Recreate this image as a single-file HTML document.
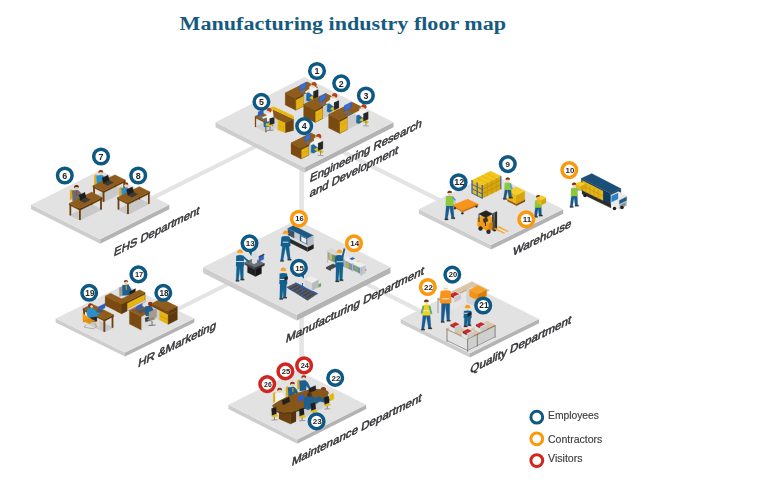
<!DOCTYPE html>
<html><head><meta charset="utf-8"><title>Manufacturing industry floor map</title>
<style>html,body{margin:0;padding:0;background:#fff;}svg{display:block;}</style>
</head><body>
<svg width="768" height="493" viewBox="0 0 768 493">
<rect width="768" height="493" fill="#fff"/>
<style>polygon{stroke-width:0.25;stroke-linejoin:round}</style>
<text x="179.6" y="30.0" font-family="Liberation Serif, serif" font-weight="bold" font-size="19.6" fill="#165b7f" textLength="326.5" lengthAdjust="spacingAndGlyphs">Manufacturing industry floor map</text>
<line x1="150.0" y1="199.2" x2="304.0" y2="122.2" stroke="#e4e4e4" stroke-width="4.1"/>
<line x1="304.0" y1="132.3" x2="450.0" y2="205.3" stroke="#e4e4e4" stroke-width="4.1"/>
<line x1="301.6" y1="125.0" x2="301.6" y2="406.0" stroke="#e4e4e4" stroke-width="4.6"/>
<line x1="150.0" y1="323.0" x2="297.0" y2="249.5" stroke="#e4e4e4" stroke-width="4.1"/>
<line x1="297.0" y1="249.3" x2="440.0" y2="320.8" stroke="#e4e4e4" stroke-width="4.1"/>
<polygon points="215.5,122.3 304.5,167.6 304.5,172.5 215.5,127.2" fill="#cdcdcd"/>
<polygon points="304.5,167.6 393.5,122.3 393.5,127.2 304.5,172.5" fill="#b3b3b3"/>
<polygon points="215.5,122.3 304.5,77.0 393.5,122.3 304.5,167.6" fill="#e2e2e2"/>
<polygon points="273.6,116.6 277.8,119.7 277.8,130.1 273.6,127.5" fill="#d3d3d3" stroke="#d3d3d3"/>
<polygon points="272.8,109.6 292.1,118.5 293.6,118.9 285.1,123.1 277.8,119.7 273.6,116.6" fill="#8a5818" stroke="#8a5818"/>
<polygon points="285.1,123.1 293.6,118.9 293.6,130.5 285.1,132.8" fill="#6e420d" stroke="#6e420d"/>
<polygon points="277.8,119.7 285.1,123.1 285.1,132.8 277.8,130.1" fill="#e5b412" stroke="#e5b412"/>
<line x1="278.0" y1="125.2" x2="285.0" y2="128.4" stroke="#c99a08" stroke-width="0.5"/>
<path d="M268.6,112.3 Q268.5,107.5 273.6,106.6 L293.0,115.6 Q294.6,116.6 294.0,118.1 L292.1,118.5 L272.8,109.6 Q271.0,110.2 270.5,111.6 Z" fill="#e8b80f"/>
<polygon points="266.0,132.3 273.0,128.8 262.0,123.3 255.0,126.8" fill="#cfcfcf" stroke="#cfcfcf"/>
<line x1="266.0" y1="132.3" x2="266.0" y2="122.3" stroke="#7a4a10" stroke-width="1.3"/>
<line x1="272.5" y1="129.1" x2="272.5" y2="119.1" stroke="#7a4a10" stroke-width="1.3"/>
<line x1="255.5" y1="127.1" x2="255.5" y2="117.1" stroke="#7a4a10" stroke-width="1.3"/>
<polygon points="255.0,117.8 266.0,123.3 266.0,121.7 255.0,116.2" fill="#7a4a10" stroke="#7a4a10"/>
<polygon points="266.0,123.3 273.0,119.8 273.0,118.2 266.0,121.7" fill="#5f390b" stroke="#5f390b"/>
<polygon points="266.0,121.7 273.0,118.2 262.0,112.7 255.0,116.2" fill="#8e5c1c" stroke="#8e5c1c"/>
<polygon points="258.5,117.0 263.5,119.5 266.5,118.0 261.5,115.5" fill="#707070" stroke="#707070"/>
<polygon points="258.1,116.4 263.4,113.8 263.4,109.3 258.1,111.9" fill="#2f5fc0" stroke="#2f5fc0"/>
<polygon points="266.6,126.2 273.6,126.2 273.6,130.8 266.6,130.8" fill="#cfcfcf" stroke="#cfcfcf"/>
<line x1="270.0" y1="126.0" x2="270.0" y2="130.5" stroke="#666" stroke-width="0.8"/>
<line x1="266.8" y1="130.5" x2="273.4" y2="130.2" stroke="#777" stroke-width="0.7"/>
<polygon points="263.5,121.5 268.9,120.8 268.9,126.5 264.0,127.0" fill="#1b69a3" stroke="#1b69a3"/>
<polygon points="265.9,123.6 272.8,123.1 272.8,125.4 265.9,125.9" fill="#e8bd10" stroke="#e8bd10"/>
<polygon points="266.6,112.8 272.5,112.3 273.6,120.8 267.2,121.6" fill="#f2f2f2" stroke="#f2f2f2"/>
<polygon points="266.8,115.5 262.5,117.2 263.0,118.6 267.2,117.3" fill="#f2f2f2" stroke="#f2f2f2"/>
<polygon points="269.7,118.4 274.3,117.3 274.3,123.6 269.7,124.7" fill="#262626" stroke="#262626"/>
<circle cx="268.9" cy="110.8" r="2.4" fill="#f1d2b4"/>
<path d="M266.6,110.6 a2.5,2.5 0 1,1 4.8,0.6 l-1,1.2 l-1.4,-1.5 z" fill="#b5401c"/>
<polygon points="285.2,105.0 295.7,110.3 295.7,98.3 285.2,93.0" fill="#7a4a10" stroke="#7a4a10"/>
<polygon points="295.7,98.3 317.7,87.3 307.2,82.0 285.2,93.0" fill="#8e5c1c" stroke="#8e5c1c"/>
<polygon points="295.7,110.3 303.7,106.3 303.7,94.3 295.7,98.3" fill="#5f390b" stroke="#5f390b"/>
<polygon points="296.1,109.8 303.3,106.2 303.3,96.3 296.1,99.9" fill="#e5b412" stroke="#e5b412"/>
<polygon points="296.1,104.1 303.3,100.5 303.3,100.1 296.1,103.7" fill="#d6a60b" stroke="#d6a60b"/>
<polygon points="303.7,106.3 317.7,99.3 317.7,88.8 303.7,95.8" fill="#cbcbcb" stroke="#cbcbcb"/>
<polygon points="295.7,98.3 317.7,87.3 307.2,82.0 285.2,93.0" fill="#8e5c1c" stroke="#8e5c1c"/>
<polygon points="298.9,91.3 302.2,89.7 307.9,92.5 304.6,94.1" fill="#6b6b6b" stroke="#6b6b6b"/>
<polygon points="299.5,90.7 306.0,87.5 306.5,82.0 300.0,85.2" fill="#2f5fc0" stroke="#2f5fc0"/>
<polygon points="300.3,89.7 305.3,87.2 305.7,83.1 300.7,85.6" fill="#3d6fd1" stroke="#3d6fd1"/>
<polygon points="306.6,93.6 312.9,91.1 314.4,98.1 308.9,101.6 306.3,100.6" fill="#1b69a3" stroke="#1b69a3"/>
<polygon points="309.4,98.1 317.4,101.6 318.9,99.6 311.9,96.1" fill="#e8bd10" stroke="#e8bd10"/>
<polygon points="309.6,86.3 316.1,86.6 316.5,94.6 312.9,95.6 309.1,92.6" fill="#f2f2f2" stroke="#f2f2f2"/>
<polygon points="309.4,89.1 305.4,91.6 305.9,93.1 310.4,91.1" fill="#f2f2f2" stroke="#f2f2f2"/>
<polygon points="313.4,91.6 318.2,89.6 318.2,97.1 313.4,99.1" fill="#262626" stroke="#262626"/>
<line x1="315.9" y1="99.1" x2="315.9" y2="103.6" stroke="#777" stroke-width="0.8"/>
<line x1="312.9" y1="103.6" x2="318.9" y2="104.1" stroke="#888" stroke-width="0.7"/>
<circle cx="313.3" cy="84.9" r="2.6" fill="#f1d2b4"/>
<path d="M311.3,84.9 a2.7,2.7 0 1,1 5.2,0.8 l-1,1.2 l-1.4,-1.5 z" fill="#b5401c"/>
<polygon points="303.6,116.7 315.1,122.4 315.1,110.1 303.6,104.4" fill="#7a4a10" stroke="#7a4a10"/>
<polygon points="315.1,110.1 337.1,99.1 325.6,93.4 303.6,104.4" fill="#8e5c1c" stroke="#8e5c1c"/>
<polygon points="315.1,122.4 323.1,118.4 323.1,106.1 315.1,110.1" fill="#5f390b" stroke="#5f390b"/>
<polygon points="315.5,121.9 322.7,118.3 322.7,108.1 315.5,111.7" fill="#e5b412" stroke="#e5b412"/>
<polygon points="315.5,115.9 322.7,112.3 322.7,111.9 315.5,115.5" fill="#d6a60b" stroke="#d6a60b"/>
<polygon points="323.1,118.4 337.1,111.4 337.1,100.6 323.1,107.6" fill="#cbcbcb" stroke="#cbcbcb"/>
<polygon points="315.1,110.1 337.1,99.1 325.6,93.4 303.6,104.4" fill="#8e5c1c" stroke="#8e5c1c"/>
<polygon points="318.4,102.9 321.8,101.3 327.6,104.2 324.2,105.8" fill="#6b6b6b" stroke="#6b6b6b"/>
<polygon points="319.0,102.3 325.7,99.0 326.2,93.4 319.5,96.7" fill="#2f5fc0" stroke="#2f5fc0"/>
<polygon points="319.8,101.3 324.9,98.7 325.4,94.5 320.2,97.1" fill="#3d6fd1" stroke="#3d6fd1"/>
<polygon points="327.3,104.6 333.6,102.1 335.1,109.1 329.6,112.6 327.0,111.6" fill="#1b69a3" stroke="#1b69a3"/>
<polygon points="330.1,109.1 338.1,112.6 339.6,110.6 332.6,107.1" fill="#e8bd10" stroke="#e8bd10"/>
<polygon points="330.3,97.3 336.8,97.6 337.2,105.6 333.6,106.6 329.8,103.6" fill="#f2f2f2" stroke="#f2f2f2"/>
<polygon points="330.1,100.1 326.1,102.6 326.6,104.1 331.1,102.1" fill="#f2f2f2" stroke="#f2f2f2"/>
<polygon points="334.1,102.6 338.9,100.6 338.9,108.1 334.1,110.1" fill="#262626" stroke="#262626"/>
<line x1="336.6" y1="110.1" x2="336.6" y2="114.6" stroke="#777" stroke-width="0.8"/>
<line x1="333.6" y1="114.6" x2="339.6" y2="115.1" stroke="#888" stroke-width="0.7"/>
<circle cx="334.0" cy="95.9" r="2.6" fill="#f1d2b4"/>
<path d="M332.0,95.9 a2.7,2.7 0 1,1 5.2,0.8 l-1,1.2 l-1.4,-1.5 z" fill="#b5401c"/>
<polygon points="328.6,128.1 339.6,133.6 339.6,120.1 328.6,114.6" fill="#7a4a10" stroke="#7a4a10"/>
<polygon points="339.6,120.1 363.6,108.1 352.6,102.6 328.6,114.6" fill="#8e5c1c" stroke="#8e5c1c"/>
<polygon points="339.6,133.6 347.6,129.6 347.6,116.1 339.6,120.1" fill="#5f390b" stroke="#5f390b"/>
<polygon points="340.0,133.1 347.2,129.5 347.2,118.1 340.0,121.7" fill="#e5b412" stroke="#e5b412"/>
<polygon points="340.0,125.9 347.2,122.3 347.2,121.9 340.0,125.5" fill="#d6a60b" stroke="#d6a60b"/>
<polygon points="347.6,129.6 363.6,121.6 363.6,109.6 347.6,117.6" fill="#cbcbcb" stroke="#cbcbcb"/>
<polygon points="339.6,120.1 363.6,108.1 352.6,102.6 328.6,114.6" fill="#8e5c1c" stroke="#8e5c1c"/>
<polygon points="343.2,112.2 346.9,110.4 353.3,113.6 349.6,115.4" fill="#6b6b6b" stroke="#6b6b6b"/>
<polygon points="343.9,111.5 351.2,107.9 351.8,101.8 344.4,105.4" fill="#2f5fc0" stroke="#2f5fc0"/>
<polygon points="344.8,110.4 350.4,107.6 350.9,103.0 345.2,105.8" fill="#3d6fd1" stroke="#3d6fd1"/>
<polygon points="356.6,115.7 362.9,113.2 364.4,120.2 358.9,123.7 356.3,122.7" fill="#1b69a3" stroke="#1b69a3"/>
<polygon points="359.4,120.2 367.4,123.7 368.9,121.7 361.9,118.2" fill="#e8bd10" stroke="#e8bd10"/>
<polygon points="359.6,108.4 366.1,108.7 366.5,116.7 362.9,117.7 359.1,114.7" fill="#f2f2f2" stroke="#f2f2f2"/>
<polygon points="359.4,111.2 355.4,113.7 355.9,115.2 360.4,113.2" fill="#f2f2f2" stroke="#f2f2f2"/>
<polygon points="363.4,113.7 368.2,111.7 368.2,119.2 363.4,121.2" fill="#262626" stroke="#262626"/>
<line x1="365.9" y1="121.2" x2="365.9" y2="125.7" stroke="#777" stroke-width="0.8"/>
<line x1="362.9" y1="125.7" x2="368.9" y2="126.2" stroke="#888" stroke-width="0.7"/>
<circle cx="363.3" cy="107.0" r="2.6" fill="#f1d2b4"/>
<path d="M361.3,107.0 a2.7,2.7 0 1,1 5.2,0.8 l-1,1.2 l-1.4,-1.5 z" fill="#b5401c"/>
<polygon points="291.0,153.9 301.1,159.0 301.1,148.2 291.0,143.1" fill="#7a4a10" stroke="#7a4a10"/>
<polygon points="301.1,148.2 321.1,138.2 311.0,133.1 291.0,143.1" fill="#8e5c1c" stroke="#8e5c1c"/>
<polygon points="301.1,159.0 309.1,155.0 309.1,144.2 301.1,148.2" fill="#5f390b" stroke="#5f390b"/>
<polygon points="301.5,158.5 308.7,154.9 308.7,146.2 301.5,149.8" fill="#e5b412" stroke="#e5b412"/>
<polygon points="301.5,154.0 308.7,150.4 308.7,150.0 301.5,153.6" fill="#d6a60b" stroke="#d6a60b"/>
<polygon points="309.1,155.0 321.1,149.0 321.1,139.7 309.1,145.7" fill="#cbcbcb" stroke="#cbcbcb"/>
<polygon points="301.1,148.2 321.1,138.2 311.0,133.1 291.0,143.1" fill="#8e5c1c" stroke="#8e5c1c"/>
<polygon points="304.0,141.9 307.0,140.5 312.1,143.0 309.1,144.4" fill="#6b6b6b" stroke="#6b6b6b"/>
<polygon points="304.5,141.4 310.4,138.5 310.8,133.5 305.0,136.4" fill="#2f5fc0" stroke="#2f5fc0"/>
<polygon points="305.2,140.5 309.7,138.2 310.1,134.5 305.6,136.8" fill="#3d6fd1" stroke="#3d6fd1"/>
<polygon points="311.3,145.3 317.6,142.8 319.1,149.8 313.6,153.3 311.0,152.3" fill="#1b69a3" stroke="#1b69a3"/>
<polygon points="314.1,149.8 322.1,153.3 323.6,151.3 316.6,147.8" fill="#e8bd10" stroke="#e8bd10"/>
<polygon points="314.3,138.0 320.8,138.3 321.2,146.3 317.6,147.3 313.8,144.3" fill="#f2f2f2" stroke="#f2f2f2"/>
<polygon points="314.1,140.8 310.1,143.3 310.6,144.8 315.1,142.8" fill="#f2f2f2" stroke="#f2f2f2"/>
<polygon points="318.1,143.3 322.9,141.3 322.9,148.8 318.1,150.8" fill="#262626" stroke="#262626"/>
<line x1="320.6" y1="150.8" x2="320.6" y2="155.3" stroke="#777" stroke-width="0.8"/>
<line x1="317.6" y1="155.3" x2="323.6" y2="155.8" stroke="#888" stroke-width="0.7"/>
<circle cx="318.0" cy="136.6" r="2.6" fill="#f1d2b4"/>
<path d="M316.0,136.6 a2.7,2.7 0 1,1 5.2,0.8 l-1,1.2 l-1.4,-1.5 z" fill="#b5401c"/>
<polygon points="31.1,204.7 100.2,239.2 100.2,243.8 31.1,209.3" fill="#cdcdcd"/>
<polygon points="100.2,239.2 169.3,204.7 169.3,209.3 100.2,243.8" fill="#b3b3b3"/>
<polygon points="31.1,204.7 100.2,170.2 169.3,204.7 100.2,239.2" fill="#e2e2e2"/>
<polygon points="94.3,175.4 96.3,174.4 96.3,183.9 94.3,184.9" fill="#e0ac12" stroke="#e0ac12"/>
<polygon points="96.3,175.6 102.3,175.0 104.8,177.4 107.3,182.4 105.8,183.4 103.3,180.9 103.0,185.4 96.8,185.9" fill="#2d8fc8" stroke="#2d8fc8"/>
<circle cx="100.8" cy="172.4" r="2.2" fill="#f0cfae"/>
<path d="M98.5,172.6 a2.3,2.3 0 1,1 4.5,0.2 l-0.8,-0.6 l-2.2,-0.3 l-1.3,1.4 z" fill="#8a3418"/>
<polygon points="103.5,202.2 125.5,191.2 114.9,185.9 92.9,196.9" fill="#c9c9c9" stroke="#c9c9c9"/>
<line x1="114.9" y1="186.9" x2="114.9" y2="175.7" stroke="#6e4210" stroke-width="1.4"/>
<line x1="94.1" y1="196.9" x2="94.1" y2="185.7" stroke="#6e4210" stroke-width="1.4"/>
<line x1="124.3" y1="191.2" x2="124.3" y2="180.0" stroke="#6e4210" stroke-width="1.4"/>
<line x1="103.5" y1="201.6" x2="103.5" y2="190.4" stroke="#6e4210" stroke-width="1.6"/>
<polygon points="92.9,187.5 103.5,192.8 103.5,191.0 92.9,185.7" fill="#74450f" stroke="#74450f"/>
<polygon points="103.5,192.8 125.5,181.8 125.5,180.0 103.5,191.0" fill="#5c360a" stroke="#5c360a"/>
<polygon points="103.5,191.0 125.5,180.0 114.9,174.7 92.9,185.7" fill="#8e5c1c" stroke="#8e5c1c"/>
<line x1="94.1" y1="196.9" x2="94.1" y2="187.5" stroke="#6e4210" stroke-width="1.5"/>
<line x1="124.3" y1="191.2" x2="124.3" y2="181.8" stroke="#6e4210" stroke-width="1.5"/>
<line x1="103.5" y1="201.6" x2="103.5" y2="192.2" stroke="#6e4210" stroke-width="1.5"/>
<polygon points="103.5,183.5 109.5,180.5 108.0,174.9 102.0,177.9" fill="#1d1d1d" stroke="#1d1d1d"/>
<polygon points="103.5,183.5 109.5,180.5 113.5,182.5 107.5,185.5" fill="#3a3a3a" stroke="#3a3a3a"/>
<polygon points="70.0,190.4 72.0,189.4 72.0,198.9 70.0,199.9" fill="#e0ac12" stroke="#e0ac12"/>
<polygon points="72.0,190.6 78.0,190.0 80.5,192.4 83.0,197.4 81.5,198.4 79.0,195.9 78.7,200.4 72.5,200.9" fill="#6a6d70" stroke="#6a6d70"/>
<polygon points="76.2,190.9 77.1,190.9 76.9,195.4 76.3,195.4" fill="#c0392b" stroke="#c0392b"/>
<circle cx="76.5" cy="187.4" r="2.2" fill="#f0cfae"/>
<path d="M74.2,187.6 a2.3,2.3 0 1,1 4.5,0.2 l-0.8,-0.6 l-2.2,-0.3 l-1.3,1.4 z" fill="#5a2a14"/>
<polygon points="79.8,220.6 102.2,209.4 91.6,204.1 69.2,215.3" fill="#c9c9c9" stroke="#c9c9c9"/>
<line x1="91.6" y1="205.1" x2="91.6" y2="193.1" stroke="#6e4210" stroke-width="1.4"/>
<line x1="70.4" y1="215.3" x2="70.4" y2="203.3" stroke="#6e4210" stroke-width="1.4"/>
<line x1="101.0" y1="209.4" x2="101.0" y2="197.4" stroke="#6e4210" stroke-width="1.4"/>
<line x1="79.8" y1="220.0" x2="79.8" y2="208.0" stroke="#6e4210" stroke-width="1.6"/>
<polygon points="69.2,205.1 79.8,210.4 79.8,208.6 69.2,203.3" fill="#74450f" stroke="#74450f"/>
<polygon points="79.8,210.4 102.2,199.2 102.2,197.4 79.8,208.6" fill="#5c360a" stroke="#5c360a"/>
<polygon points="79.8,208.6 102.2,197.4 91.6,192.1 69.2,203.3" fill="#8e5c1c" stroke="#8e5c1c"/>
<line x1="70.4" y1="215.3" x2="70.4" y2="205.1" stroke="#6e4210" stroke-width="1.5"/>
<line x1="101.0" y1="209.4" x2="101.0" y2="199.2" stroke="#6e4210" stroke-width="1.5"/>
<line x1="79.8" y1="220.0" x2="79.8" y2="209.8" stroke="#6e4210" stroke-width="1.5"/>
<polygon points="80.3,200.8 86.3,197.8 84.8,192.3 78.8,195.3" fill="#1d1d1d" stroke="#1d1d1d"/>
<polygon points="80.3,200.8 86.3,197.8 90.3,199.8 84.3,202.8" fill="#3a3a3a" stroke="#3a3a3a"/>
<polygon points="119.4,187.8 121.4,186.8 121.4,196.3 119.4,197.3" fill="#e0ac12" stroke="#e0ac12"/>
<polygon points="121.4,188.0 127.4,187.4 129.9,189.8 132.4,194.8 130.9,195.8 128.4,193.3 128.1,197.8 121.9,198.3" fill="#2d8fc8" stroke="#2d8fc8"/>
<circle cx="125.9" cy="184.8" r="2.2" fill="#f0cfae"/>
<path d="M123.6,185.0 a2.3,2.3 0 1,1 4.5,0.2 l-0.8,-0.6 l-2.2,-0.3 l-1.3,1.4 z" fill="#8a3418"/>
<polygon points="127.9,214.7 149.9,203.7 139.3,198.4 117.3,209.4" fill="#c9c9c9" stroke="#c9c9c9"/>
<line x1="139.3" y1="199.4" x2="139.3" y2="187.5" stroke="#6e4210" stroke-width="1.4"/>
<line x1="118.5" y1="209.4" x2="118.5" y2="197.5" stroke="#6e4210" stroke-width="1.4"/>
<line x1="148.7" y1="203.7" x2="148.7" y2="191.8" stroke="#6e4210" stroke-width="1.4"/>
<line x1="127.9" y1="214.1" x2="127.9" y2="202.2" stroke="#6e4210" stroke-width="1.6"/>
<polygon points="117.3,199.3 127.9,204.6 127.9,202.8 117.3,197.5" fill="#74450f" stroke="#74450f"/>
<polygon points="127.9,204.6 149.9,193.6 149.9,191.8 127.9,202.8" fill="#5c360a" stroke="#5c360a"/>
<polygon points="127.9,202.8 149.9,191.8 139.3,186.5 117.3,197.5" fill="#8e5c1c" stroke="#8e5c1c"/>
<line x1="118.5" y1="209.4" x2="118.5" y2="199.3" stroke="#6e4210" stroke-width="1.5"/>
<line x1="148.7" y1="203.7" x2="148.7" y2="193.6" stroke="#6e4210" stroke-width="1.5"/>
<line x1="127.9" y1="214.1" x2="127.9" y2="204.0" stroke="#6e4210" stroke-width="1.5"/>
<polygon points="127.9,195.3 133.9,192.3 132.4,186.8 126.4,189.8" fill="#1d1d1d" stroke="#1d1d1d"/>
<polygon points="127.9,195.3 133.9,192.3 137.9,194.3 131.9,197.3" fill="#3a3a3a" stroke="#3a3a3a"/>
<polygon points="418.8,209.3 491.0,245.1 491.0,249.6 418.8,213.8" fill="#cdcdcd"/>
<polygon points="491.0,245.1 563.2,209.3 563.2,213.8 491.0,249.6" fill="#b3b3b3"/>
<polygon points="418.8,209.3 491.0,173.5 563.2,209.3 491.0,245.1" fill="#e2e2e2"/>
<polygon points="472.0,193.4 482.2,198.5 482.2,185.3 472.0,180.2" fill="#e9b914" stroke="#e9b914"/>
<polygon points="482.2,198.5 500.9,189.2 500.9,176.0 482.2,185.3" fill="#d9a70e" stroke="#d9a70e"/>
<polygon points="482.2,185.3 500.9,176.0 490.7,170.9 472.0,180.2" fill="#f3c61c" stroke="#f3c61c"/>
<polygon points="482.2,194.1 500.9,184.8 500.9,184.2 482.2,193.5" fill="#b98d08" stroke="#b98d08"/>
<polygon points="482.2,189.7 500.9,180.3 500.9,179.8 482.2,189.1" fill="#b98d08" stroke="#b98d08"/>
<polygon points="486.9,196.2 487.4,195.9 487.4,182.7 486.9,183.0" fill="#c79a0a" stroke="#c79a0a"/>
<polygon points="491.6,193.8 492.1,193.6 492.1,180.4 491.6,180.6" fill="#c79a0a" stroke="#c79a0a"/>
<polygon points="496.2,191.5 496.7,191.2 496.7,178.1 496.2,178.3" fill="#c79a0a" stroke="#c79a0a"/>
<line x1="482.2" y1="198.5" x2="482.2" y2="185.1" stroke="#2d5fb3" stroke-width="1.2"/>
<line x1="477.2" y1="196.0" x2="477.2" y2="182.6" stroke="#2d5fb3" stroke-width="1.2"/>
<line x1="472.0" y1="193.4" x2="472.0" y2="180.0" stroke="#2d5fb3" stroke-width="1.2"/>
<line x1="500.9" y1="189.2" x2="500.9" y2="175.8" stroke="#2d5fb3" stroke-width="1.0"/>
<line x1="482.2" y1="198.2" x2="472.0" y2="193.1" stroke="#2d5fb3" stroke-width="0.9"/>
<line x1="482.2" y1="193.9" x2="472.0" y2="188.8" stroke="#2d5fb3" stroke-width="0.9"/>
<line x1="482.2" y1="189.5" x2="472.0" y2="184.4" stroke="#2d5fb3" stroke-width="0.9"/>
<line x1="486.9" y1="183.0" x2="476.7" y2="177.9" stroke="#d6a80e" stroke-width="0.5"/>
<line x1="491.6" y1="180.6" x2="481.4" y2="175.5" stroke="#d6a80e" stroke-width="0.5"/>
<line x1="496.2" y1="178.3" x2="486.0" y2="173.2" stroke="#d6a80e" stroke-width="0.5"/>
<polygon points="452.8,205.1 467.5,199.0 478.1,204.1 462.4,210.7" fill="#f7941d" stroke="#f7941d"/>
<polygon points="452.8,205.1 462.4,210.7 462.4,212.2 452.8,206.6" fill="#e07d0a" stroke="#e07d0a"/>
<polygon points="462.4,210.7 478.1,204.1 478.1,205.6 462.4,212.2" fill="#c96c05" stroke="#c96c05"/>
<circle cx="455.0" cy="208.2" r="1.2" fill="#333"/>
<circle cx="462.4" cy="213.2" r="1.2" fill="#333"/>
<circle cx="476.5" cy="206.6" r="1.2" fill="#333"/>
<line x1="450.5" y1="198.5" x2="456.0" y2="203.5" stroke="#d08a30" stroke-width="0.8"/>
<polygon points="446.4,204.4 450.0,204.4 447.4,219.2 445.0,219.2" fill="#1a5a8e" stroke="#1a5a8e"/>
<polygon points="449.2,204.4 453.1,204.4 454.1,218.0 451.6,218.0" fill="#1a5a8e" stroke="#1a5a8e"/>
<polygon points="444.8,218.8 448.2,218.8 448.2,220.0 444.8,220.0" fill="#333" stroke="#333"/>
<polygon points="451.4,217.6 455.0,217.6 455.0,218.8 451.4,218.8" fill="#333" stroke="#333"/>
<path d="M445.9,196.3 q3.8,-1.2 7.5,0 l0.3,9.7 l-8.1,0 z" fill="#8dc63f"/>
<line x1="452.6" y1="197.2" x2="455.5" y2="200.5" stroke="#4aa3df" stroke-width="1.8"/>
<circle cx="449.7" cy="192.9" r="2.3" fill="#f0cfae"/>
<path d="M447.3,193.1 a2.4,2.4 0 1,1 4.8,0 l-0.4,-0.3 l-3.8,0.3 z" fill="#7a3315"/>
<polygon points="507.5,201.2 516.5,205.7 516.5,203.7 507.5,199.2" fill="#9a5a1c" stroke="#9a5a1c"/>
<polygon points="516.5,205.7 525.0,201.4 525.0,199.4 516.5,203.7" fill="#7e4812" stroke="#7e4812"/>
<polygon points="516.5,203.7 525.0,199.4 516.0,194.9 507.5,199.2" fill="#b8742c" stroke="#b8742c"/>
<polygon points="507.9,199.4 516.5,203.7 516.5,195.2 507.9,190.9" fill="#eab818" stroke="#eab818"/>
<polygon points="516.5,203.7 524.7,199.6 524.7,191.1 516.5,195.2" fill="#d7a40c" stroke="#d7a40c"/>
<polygon points="516.5,195.2 524.7,191.1 516.1,186.8 507.9,190.9" fill="#f5cd2a" stroke="#f5cd2a"/>
<line x1="512.2" y1="201.5" x2="512.2" y2="193.0" stroke="#c99a08" stroke-width="0.5"/>
<polygon points="505.1,188.5 508.1,188.5 505.8,198.7 503.4,198.7" fill="#1a5a8e" stroke="#1a5a8e"/>
<polygon points="507.3,188.5 510.8,188.5 511.7,197.5 509.2,197.5" fill="#1a5a8e" stroke="#1a5a8e"/>
<polygon points="503.2,198.3 506.6,198.3 506.6,199.5 503.2,199.5" fill="#333" stroke="#333"/>
<polygon points="509.0,197.1 512.6,197.1 512.6,198.3 509.0,198.3" fill="#333" stroke="#333"/>
<path d="M504.6,183.0 q3.2,-1.2 6.5,0 l0.3,7.1 l-7.1,0 z" fill="#8dc63f"/>
<line x1="510.2" y1="183.9" x2="512.0" y2="189.0" stroke="#4aa3df" stroke-width="1.8"/>
<circle cx="507.8" cy="179.6" r="2.3" fill="#f0cfae"/>
<path d="M505.4,179.8 a2.4,2.4 0 1,1 4.8,0 l-0.4,-0.3 l-3.8,0.3 z" fill="#7a3315"/>
<polygon points="477.5,226.0 488.5,231.5 488.5,223.5 477.5,218.0" fill="#f19a12" stroke="#f19a12"/>
<polygon points="488.5,231.5 496.5,227.5 496.5,219.5 488.5,223.5" fill="#d98407" stroke="#d98407"/>
<polygon points="488.5,223.5 496.5,219.5 485.5,214.0 477.5,218.0" fill="#f4a21f" stroke="#f4a21f"/>
<circle cx="480.5" cy="228.5" r="2.2" fill="#2a2a2a"/>
<circle cx="488.5" cy="231.8" r="2.2" fill="#2a2a2a"/>
<circle cx="494.5" cy="229.5" r="2.0" fill="#2a2a2a"/>
<polygon points="478.5,214.0 486.0,210.5 493.0,214.0 485.5,217.5" fill="#222" stroke="#222"/>
<line x1="479.0" y1="214.5" x2="479.0" y2="222.0" stroke="#222" stroke-width="0.9"/>
<line x1="485.5" y1="217.5" x2="485.5" y2="226.0" stroke="#222" stroke-width="0.9"/>
<line x1="492.5" y1="214.5" x2="492.5" y2="222.0" stroke="#222" stroke-width="0.9"/>
<polygon points="483.0,219.0 487.0,217.0 488.0,221.0 484.0,223.0" fill="#333" stroke="#333"/>
<polygon points="494.5,212.5 497.0,211.5 497.0,229.0 494.5,230.0" fill="#2d2d2d" stroke="#2d2d2d"/>
<polygon points="492.6,213.5 494.2,212.8 494.2,230.0 492.6,230.6" fill="#555" stroke="#555"/>
<polygon points="494.0,229.0 504.0,233.5 505.0,233.0 495.5,228.0" fill="#f5a623" stroke="#f5a623"/>
<polygon points="497.5,227.2 507.5,231.7 508.5,231.2 499.0,226.2" fill="#f5a623" stroke="#f5a623"/>
<polygon points="535.5,206.2 538.6,206.2 536.7,216.6 534.3,216.6" fill="#1a5a8e" stroke="#1a5a8e"/>
<polygon points="537.8,206.2 541.2,206.2 541.6,215.4 539.1,215.4" fill="#1a5a8e" stroke="#1a5a8e"/>
<polygon points="534.1,216.2 537.5,216.2 537.5,217.4 534.1,217.4" fill="#333" stroke="#333"/>
<polygon points="538.9,215.0 542.5,215.0 542.5,216.2 538.9,216.2" fill="#333" stroke="#333"/>
<path d="M535.0,200.6 q3.2,-1.2 6.5,0 l0.3,7.2 l-7.1,0 z" fill="#8dc63f"/>
<line x1="540.8" y1="201.5" x2="543.0" y2="201.0" stroke="#4aa3df" stroke-width="1.8"/>
<circle cx="538.3" cy="197.2" r="2.3" fill="#f0cfae"/>
<path d="M535.9,197.4 a2.4,2.4 0 1,1 4.8,0 l-0.4,-0.3 l-3.8,0.3 z" fill="#7a3315"/>
<polygon points="537.0,202.8 541.5,205.0 541.5,200.0 537.0,197.8" fill="#eab818" stroke="#eab818"/>
<polygon points="541.5,205.0 546.0,202.8 546.0,197.8 541.5,200.0" fill="#d7a40c" stroke="#d7a40c"/>
<polygon points="541.5,200.0 546.0,197.8 541.5,195.5 537.0,197.8" fill="#f5cd2a" stroke="#f5cd2a"/>
<polygon points="203.1,267.3 296.8,314.7 296.8,320.4 203.1,273.0" fill="#cdcdcd"/>
<polygon points="296.8,314.7 390.5,267.3 390.5,273.0 296.8,320.4" fill="#b3b3b3"/>
<polygon points="203.1,267.3 296.8,219.9 390.5,267.3 296.8,314.7" fill="#e2e2e2"/>
<polygon points="287.5,228.5 293.5,225.5 313.5,235.5 307.5,238.5" fill="#1b5a84" stroke="#1b5a84"/>
<polygon points="287.5,228.5 307.5,238.5 307.5,245.0 287.5,235.0" fill="#9aa4ab" stroke="#9aa4ab"/>
<polygon points="288.0,229.0 294.5,232.2 294.5,239.5 288.0,236.3" fill="#1b5a84" stroke="#1b5a84"/>
<polygon points="289.0,231.0 293.5,233.3 293.5,237.5 289.0,235.2" fill="#4b4f55" stroke="#4b4f55"/>
<polygon points="294.5,232.2 300.0,235.0 300.0,242.0 294.5,239.5" fill="#c8ced3" stroke="#c8ced3"/>
<polygon points="300.0,235.0 307.5,238.8 307.5,246.0 300.0,242.2" fill="#1b5a84" stroke="#1b5a84"/>
<polygon points="301.3,236.5 306.2,239.0 306.2,243.5 301.3,241.0" fill="#e9eef2" stroke="#e9eef2"/>
<polygon points="287.5,235.0 307.5,245.0 307.5,248.0 287.5,238.0" fill="#e0e0e0" stroke="#e0e0e0"/>
<polygon points="288.5,238.0 307.5,247.5 307.5,251.5 288.5,242.0" fill="#2a2a2a" stroke="#2a2a2a"/>
<polygon points="307.5,238.5 313.5,235.5 313.5,248.5 307.5,251.5" fill="#b9bec2" stroke="#b9bec2"/>
<polygon points="307.5,247.5 313.5,244.5 313.5,248.5 307.5,251.5" fill="#1e1e1e" stroke="#1e1e1e"/>
<polygon points="282.5,245.2 285.9,245.2 283.0,260.7 280.6,260.7" fill="#13608f" stroke="#13608f"/>
<polygon points="285.1,245.2 288.9,245.2 290.4,259.5 287.9,259.5" fill="#13608f" stroke="#13608f"/>
<polygon points="280.4,260.3 283.8,260.3 283.8,261.5 280.4,261.5" fill="#333" stroke="#333"/>
<polygon points="287.7,259.1 291.3,259.1 291.3,260.3 287.7,260.3" fill="#333" stroke="#333"/>
<path d="M282.0,236.6 q3.6,-1.2 7.2,0 l0.3,10.2 l-7.8,0 z" fill="#13608f"/>
<rect x="282.0" y="241.7" width="7.2" height="0.9" fill="#e8e8e8"/>
<line x1="282.3" y1="237.2" x2="281.5" y2="246.2" stroke="#13608f" stroke-width="1.8"/>
<line x1="288.9" y1="237.2" x2="289.7" y2="246.2" stroke="#13608f" stroke-width="1.8"/>
<circle cx="285.6" cy="233.2" r="2.3" fill="#f0cfae"/>
<path d="M283.0,233.0 a2.6,2.6 0 0,1 5.2,0 l0.6,0 l0,0.7 l-6.4,0 z" fill="#f7a01b"/>
<polygon points="247.5,272.5 255.5,276.5 255.5,269.0 247.5,265.0" fill="#1f1f1f" stroke="#1f1f1f"/>
<polygon points="255.5,276.5 261.5,273.5 261.5,266.0 255.5,269.0" fill="#151515" stroke="#151515"/>
<polygon points="255.5,269.0 261.5,266.0 253.5,262.0 247.5,265.0" fill="#2b2b2b" stroke="#2b2b2b"/>
<polygon points="244.5,262.5 254.0,258.0 264.5,263.5 255.0,268.0" fill="#6b6f74" stroke="#6b6f74"/>
<polygon points="244.5,262.5 255.0,268.0 255.0,270.0 244.5,264.5" fill="#44484c" stroke="#44484c"/>
<polygon points="255.0,268.0 264.5,263.5 264.5,265.5 255.0,270.0" fill="#2e3236" stroke="#2e3236"/>
<polygon points="252.0,252.5 255.0,251.0 257.0,252.0 257.0,262.5 254.0,264.0 252.0,263.0" fill="#d9dcdf" stroke="#d9dcdf"/>
<polygon points="258.8,256.5 263.8,254.0 263.8,259.2 258.8,261.7" fill="#2f62c4" stroke="#2f62c4"/>
<polygon points="258.8,256.5 263.8,254.0 264.5,254.5 259.5,257.0" fill="#333" stroke="#333"/>
<polygon points="236.7,264.6 240.3,264.6 238.5,280.6 236.1,280.6" fill="#13608f" stroke="#13608f"/>
<polygon points="239.5,264.6 243.5,264.6 243.3,279.4 240.8,279.4" fill="#13608f" stroke="#13608f"/>
<polygon points="235.8,280.2 239.2,280.2 239.2,281.4 235.8,281.4" fill="#333" stroke="#333"/>
<polygon points="240.6,279.0 244.2,279.0 244.2,280.2 240.6,280.2" fill="#333" stroke="#333"/>
<path d="M236.2,255.7 q3.8,-1.2 7.6,0 l0.3,10.5 l-8.2,0 z" fill="#13608f"/>
<rect x="236.2" y="261.1" width="7.6" height="0.9" fill="#e8e8e8"/>
<line x1="243.0" y1="256.6" x2="249.0" y2="262.0" stroke="#13608f" stroke-width="1.8"/>
<circle cx="240.0" cy="252.3" r="2.3" fill="#f0cfae"/>
<path d="M237.4,252.1 a2.6,2.6 0 0,1 5.2,0 l0.6,0 l0,0.7 l-6.4,0 z" fill="#f7a01b"/>
<polygon points="286.6,287.3 295.3,282.9 317.5,293.8 307.5,300.4" fill="#53575c" stroke="#53575c"/>
<line x1="289.7" y1="289.3" x2="298.6" y2="284.5" stroke="#2d2f32" stroke-width="0.6"/>
<line x1="292.9" y1="291.2" x2="302.0" y2="286.2" stroke="#2d2f32" stroke-width="0.6"/>
<line x1="296.0" y1="293.2" x2="305.3" y2="287.8" stroke="#2d2f32" stroke-width="0.6"/>
<line x1="299.1" y1="295.2" x2="308.6" y2="289.4" stroke="#2d2f32" stroke-width="0.6"/>
<line x1="302.3" y1="297.1" x2="311.9" y2="291.1" stroke="#2d2f32" stroke-width="0.6"/>
<line x1="305.4" y1="299.1" x2="315.3" y2="292.7" stroke="#2d2f32" stroke-width="0.6"/>
<line x1="295.3" y1="282.9" x2="317.5" y2="293.8" stroke="#2b5fc0" stroke-width="1.3"/>
<line x1="288.0" y1="288.3" x2="307.5" y2="298.5" stroke="#2b5fc0" stroke-width="0.8"/>
<line x1="302.5" y1="283.0" x2="302.5" y2="292.5" stroke="#2b5fc0" stroke-width="1.0"/>
<polygon points="305.0,279.0 311.0,276.0 318.4,279.5 318.4,287.0 312.0,290.5 305.0,287.0" fill="#d6d8da" stroke="#d6d8da"/>
<polygon points="312.0,283.0 318.4,279.5 318.4,287.0 312.0,290.5" fill="#b9bcbf" stroke="#b9bcbf"/>
<polygon points="305.0,279.0 311.0,276.0 318.4,279.5 312.0,283.0" fill="#eeeeee" stroke="#eeeeee"/>
<polygon points="318.5,284.5 321.0,283.2 321.0,286.2 318.5,287.5" fill="#6aa84f" stroke="#6aa84f"/>
<polygon points="299.5,279.5 303.0,278.0 303.0,281.5 299.5,283.0" fill="#e0e0e0" stroke="#e0e0e0"/>
<polygon points="280.1,282.5 283.6,282.5 282.2,298.7 279.8,298.7" fill="#13608f" stroke="#13608f"/>
<polygon points="282.8,282.5 286.7,282.5 285.9,297.5 283.4,297.5" fill="#13608f" stroke="#13608f"/>
<polygon points="279.6,298.3 283.0,298.3 283.0,299.5 279.6,299.5" fill="#333" stroke="#333"/>
<polygon points="283.2,297.1 286.8,297.1 286.8,298.3 283.2,298.3" fill="#333" stroke="#333"/>
<path d="M279.6,273.6 q3.7,-1.2 7.4,0 l0.3,10.5 l-8.0,0 z" fill="#13608f"/>
<rect x="279.6" y="279.0" width="7.4" height="0.9" fill="#e8e8e8"/>
<line x1="286.2" y1="274.5" x2="287.0" y2="279.0" stroke="#13608f" stroke-width="1.8"/>
<circle cx="283.3" cy="270.2" r="2.3" fill="#f0cfae"/>
<path d="M280.7,270.0 a2.6,2.6 0 0,1 5.2,0 l0.6,0 l0,0.7 l-6.4,0 z" fill="#f7a01b"/>
<polygon points="284.5,277.5 287.5,276.5 287.5,279.5 284.5,280.5" fill="#222" stroke="#222"/>
<polygon points="326.1,267.3 333.2,263.8 337.8,266.1 330.7,269.6" fill="#4a4d52" stroke="#4a4d52"/>
<polygon points="326.1,267.3 330.7,269.6 330.7,270.8 326.1,268.5" fill="#2c2e31" stroke="#2c2e31"/>
<line x1="327.9" y1="266.4" x2="332.5" y2="268.7" stroke="#2f3236" stroke-width="0.4"/>
<line x1="329.7" y1="265.6" x2="334.2" y2="267.9" stroke="#2f3236" stroke-width="0.4"/>
<line x1="331.4" y1="264.7" x2="336.0" y2="267.0" stroke="#2f3236" stroke-width="0.4"/>
<polygon points="327.8,251.5 336.8,255.8 336.8,263.5 327.8,259.2" fill="#8fa3b6" stroke="#8fa3b6"/>
<polygon points="329.3,253.0 331.8,254.2 331.8,260.5 329.3,259.3" fill="#c9b33a" stroke="#c9b33a"/>
<polygon points="332.3,254.5 335.5,256.0 335.5,262.0 332.3,260.5" fill="#6f9a56" stroke="#6f9a56"/>
<line x1="327.6" y1="250.0" x2="327.6" y2="263.0" stroke="#bdbdbd" stroke-width="1.0"/>
<line x1="337.0" y1="254.0" x2="337.0" y2="266.0" stroke="#bdbdbd" stroke-width="1.0"/>
<line x1="331.0" y1="248.4" x2="331.0" y2="259.0" stroke="#cfcfcf" stroke-width="0.8"/>
<polygon points="327.1,250.3 331.0,248.4 337.7,251.8 337.7,253.0 333.8,254.9 327.1,251.5" fill="#d8d8d8" stroke="#d8d8d8"/>
<polygon points="355.5,271.6 362.5,268.1 366.5,270.1 359.5,273.6" fill="#44474b" stroke="#44474b"/>
<polygon points="344.5,259.3 361.0,267.3 361.0,275.3 344.5,267.3" fill="#dfe3e6" stroke="#dfe3e6"/>
<polygon points="345.5,261.0 352.0,264.2 352.0,270.5 345.5,267.3" fill="#7b93aa" stroke="#7b93aa"/>
<polygon points="346.5,262.0 348.5,263.0 348.5,268.5 346.5,267.5" fill="#c9b33a" stroke="#c9b33a"/>
<polygon points="353.0,264.7 360.0,268.1 360.0,273.5 353.0,270.1" fill="#6f8fae" stroke="#6f8fae"/>
<polygon points="355.0,265.8 357.5,267.0 357.5,271.8 355.0,270.6" fill="#86ad5f" stroke="#86ad5f"/>
<polygon points="361.0,267.3 365.5,265.1 365.5,273.1 361.0,275.3" fill="#c2c6c9" stroke="#c2c6c9"/>
<polygon points="344.5,259.3 349.0,257.1 365.5,265.1 361.0,267.3" fill="#eceeef" stroke="#eceeef"/>
<line x1="344.5" y1="259.3" x2="344.5" y2="267.6" stroke="#a9adb0" stroke-width="0.9"/>
<line x1="352.7" y1="263.3" x2="352.7" y2="271.6" stroke="#a9adb0" stroke-width="0.9"/>
<line x1="361.0" y1="267.3" x2="361.0" y2="275.6" stroke="#a9adb0" stroke-width="0.9"/>
<polygon points="349.5,258.8 352.5,257.3 355.0,258.5 352.0,260.0" fill="#2f62c4" stroke="#2f62c4"/>
<polygon points="355.5,261.3 358.0,260.0 360.5,261.2 358.0,262.5" fill="#f0d9a0" stroke="#f0d9a0"/>
<polygon points="336.1,264.8 339.8,264.8 338.2,281.2 335.8,281.2" fill="#13608f" stroke="#13608f"/>
<polygon points="339.0,264.8 343.1,264.8 342.3,280.0 339.8,280.0" fill="#13608f" stroke="#13608f"/>
<polygon points="335.6,280.8 339.1,280.8 339.1,282.0 335.6,282.0" fill="#333" stroke="#333"/>
<polygon points="339.6,279.6 343.2,279.6 343.2,280.8 339.6,280.8" fill="#333" stroke="#333"/>
<path d="M335.6,255.7 q3.9,-1.2 7.8,0 l0.3,10.7 l-8.4,0 z" fill="#13608f"/>
<rect x="335.6" y="261.3" width="7.8" height="0.9" fill="#e8e8e8"/>
<line x1="342.6" y1="256.6" x2="344.5" y2="248.5" stroke="#13608f" stroke-width="1.8"/>
<line x1="336.4" y1="256.6" x2="335.5" y2="262.0" stroke="#13608f" stroke-width="1.8"/>
<circle cx="339.5" cy="252.3" r="2.3" fill="#f0cfae"/>
<path d="M336.9,252.1 a2.6,2.6 0 0,1 5.2,0 l0.6,0 l0,0.7 l-6.4,0 z" fill="#f7a01b"/>
<polygon points="55.7,318.5 125.0,352.6 125.0,356.5 55.7,322.4" fill="#cdcdcd"/>
<polygon points="125.0,352.6 194.3,318.5 194.3,322.4 125.0,356.5" fill="#b3b3b3"/>
<polygon points="55.7,318.5 125.0,284.4 194.3,318.5 125.0,352.6" fill="#e2e2e2"/>
<polygon points="119.2,287.5 122.5,286.5 122.8,295.5 119.4,296.5" fill="#9a9a9a" stroke="#9a9a9a"/>
<polygon points="122.3,285.2 128.5,284.6 131.5,290.0 131.0,295.0 122.6,295.5" fill="#1d5f8e" stroke="#1d5f8e"/>
<polygon points="125.8,285.5 126.6,285.5 126.5,290.0 126.0,290.0" fill="#e6b800" stroke="#e6b800"/>
<circle cx="125.9" cy="282.2" r="2.1" fill="#f0cfae"/>
<path d="M123.7,282.3 a2.2,2.2 0 1,1 4.4,0 l-1.5,-0.7 z" fill="#8a3418"/>
<polygon points="129.4,296.0 135.2,293.1 135.6,288.6 129.8,291.5" fill="#1d1d1d" stroke="#1d1d1d"/>
<polygon points="116.1,310.9 121.6,313.7 121.6,304.2 116.1,301.4" fill="#7a4a10" stroke="#7a4a10"/>
<polygon points="121.6,313.7 145.1,301.9 145.1,292.4 121.6,304.2" fill="#5f390b" stroke="#5f390b"/>
<polygon points="121.6,304.2 145.1,292.4 139.6,289.7 116.1,301.4" fill="#8e5c1c" stroke="#8e5c1c"/>
<polygon points="121.9,313.6 145.1,301.9 145.1,299.8 121.9,311.4" fill="#cfcfcf" stroke="#cfcfcf"/>
<polygon points="121.9,311.4 144.8,299.9 144.8,294.5 121.9,305.9" fill="#e5b412" stroke="#e5b412"/>
<polygon points="105.1,305.4 121.6,313.7 121.6,304.2 105.1,295.9" fill="#7a4a10" stroke="#7a4a10"/>
<polygon points="121.6,313.7 127.1,310.9 127.1,301.4 121.6,304.2" fill="#5f390b" stroke="#5f390b"/>
<polygon points="121.6,304.2 127.1,301.4 110.6,293.2 105.1,295.9" fill="#8e5c1c" stroke="#8e5c1c"/>
<polygon points="104.4,332.3 113.7,327.7 92.2,316.9 82.9,321.6" fill="#c9c9c9" stroke="#c9c9c9"/>
<line x1="92.2" y1="317.9" x2="92.2" y2="305.0" stroke="#6e4210" stroke-width="1.4"/>
<line x1="84.1" y1="321.6" x2="84.1" y2="308.7" stroke="#6e4210" stroke-width="1.4"/>
<line x1="112.5" y1="327.6" x2="112.5" y2="314.8" stroke="#6e4210" stroke-width="1.4"/>
<line x1="104.4" y1="331.7" x2="104.4" y2="318.8" stroke="#6e4210" stroke-width="1.6"/>
<polygon points="82.9,310.4 104.4,321.2 104.4,319.4 82.9,308.6" fill="#74450f" stroke="#74450f"/>
<polygon points="104.4,321.2 113.7,316.6 113.7,314.8 104.4,319.4" fill="#5c360a" stroke="#5c360a"/>
<polygon points="104.4,319.4 113.7,314.8 92.2,304.0 82.9,308.6" fill="#8e5c1c" stroke="#8e5c1c"/>
<line x1="84.1" y1="321.6" x2="84.1" y2="310.5" stroke="#6e4210" stroke-width="1.5"/>
<line x1="112.5" y1="327.6" x2="112.5" y2="316.6" stroke="#6e4210" stroke-width="1.5"/>
<line x1="104.4" y1="331.7" x2="104.4" y2="320.6" stroke="#6e4210" stroke-width="1.5"/>
<polygon points="95.1,311.5 99.5,309.3 103.5,311.3 99.1,313.5" fill="#555" stroke="#555"/>
<polygon points="98.3,311.2 105.1,307.8 105.1,303.4 98.3,306.8" fill="#2f5fc0" stroke="#2f5fc0"/>
<polygon points="96.4,319.6 98.6,319.2 99.6,326.5 97.4,327.0" fill="#f3d6c0" stroke="#f3d6c0"/>
<polygon points="87.5,308.5 92.5,307.6 96.5,311.5 98.0,314.5 96.9,317.8 88.0,318.5 86.8,313.0" fill="#2d8fc8" stroke="#2d8fc8"/>
<polygon points="94.0,313.0 99.5,312.5 99.8,314.0 94.5,314.6" fill="#2d8fc8" stroke="#2d8fc8"/>
<polygon points="90.5,317.4 96.9,316.8 97.0,321.2 90.8,321.8" fill="#2a2a2a" stroke="#2a2a2a"/>
<circle cx="90.4" cy="305.6" r="2.3" fill="#8a3418"/>
<circle cx="91.6" cy="306.6" r="1.4" fill="#f0cfae"/>
<polygon points="82.8,313.3 85.5,315.5 90.5,318.8 90.5,323.3 88.8,323.8 82.8,320.5" fill="#f39c12" stroke="#f39c12"/>
<polygon points="84.5,320.5 90.0,318.5 95.0,320.8 89.5,323.2" fill="#e08e0b" stroke="#e08e0b"/>
<polyline points="86,324.5 84.3,327.2 93.5,328.8 96.6,326.4 95,323.5" fill="none" stroke="#8a8a8a" stroke-width="0.6"/>
<polygon points="168.1,311.2 177.4,306.6 161.4,298.6 152.1,303.2" fill="#8e5c1c" stroke="#8e5c1c"/>
<polygon points="168.1,315.1 152.1,307.1 152.1,303.2 168.1,311.2" fill="#7a4a10" stroke="#7a4a10"/>
<polygon points="168.1,315.1 177.4,310.4 177.4,306.6 168.1,311.2" fill="#5f390b" stroke="#5f390b"/>
<polygon points="159.5,320.1 152.1,316.4 152.1,307.1 159.5,310.8" fill="#d0d0d0" stroke="#d0d0d0"/>
<polygon points="159.5,320.1 168.1,324.4 168.1,315.1 159.5,310.8" fill="#e5b412" stroke="#e5b412"/>
<polygon points="168.1,324.4 177.4,319.8 177.4,310.4 168.1,315.1" fill="#5f390b" stroke="#5f390b"/>
<polygon points="167.6,319.8 160.0,315.9 160.0,315.4 167.6,319.2" fill="#c99a08" stroke="#c99a08"/>
<polygon points="129.4,324.1 141.6,330.2 141.6,316.5 129.4,310.4" fill="#7a4a10" stroke="#7a4a10"/>
<polygon points="141.6,330.2 152.4,324.8 152.4,311.1 141.6,316.5" fill="#dcdcdc" stroke="#dcdcdc"/>
<polygon points="141.6,316.5 152.4,311.1 140.2,305.0 129.4,310.4" fill="#8e5c1c" stroke="#8e5c1c"/>
<polygon points="137.0,311.5 142.5,308.8 146.0,310.5 140.5,313.2" fill="#555" stroke="#555"/>
<polygon points="136.6,310.8 142.3,308.0 142.3,303.6 136.6,306.4" fill="#2f5fc0" stroke="#2f5fc0"/>
<polygon points="145.0,318.0 151.0,316.0 151.5,320.0 145.5,322.0" fill="#3a3a3a" stroke="#3a3a3a"/>
<polygon points="145.2,306.5 151.0,305.6 153.5,310.0 153.0,315.5 146.0,316.0 144.5,311.0" fill="#1d5f8e" stroke="#1d5f8e"/>
<circle cx="150.2" cy="303.9" r="2.2" fill="#f0cfae"/>
<path d="M148,304 a2.3,2.3 0 1,1 4.6,0 l-0.4,2.2 l-3,0.2 z" fill="#8a3418"/>
<polygon points="149.0,312.0 156.7,308.8 156.7,317.0 149.0,320.5" fill="#a39a90" stroke="#a39a90"/>
<polygon points="147.0,319.5 153.0,317.5 155.5,319.0 149.5,321.0" fill="#8f877e" stroke="#8f877e"/>
<line x1="152.0" y1="321.0" x2="152.0" y2="325.5" stroke="#555" stroke-width="0.8"/>
<line x1="148.5" y1="325.5" x2="155.5" y2="325.0" stroke="#555" stroke-width="0.8"/>
<polygon points="400.7,318.9 469.9,353.2 469.9,357.5 400.7,323.2" fill="#cdcdcd"/>
<polygon points="469.9,353.2 539.1,318.9 539.1,323.2 469.9,357.5" fill="#b3b3b3"/>
<polygon points="400.7,318.9 469.9,284.6 539.1,318.9 469.9,353.2" fill="#e2e2e2"/>
<polygon points="440.0,300.5 466.5,287.5 466.5,302.5 440.0,315.5" fill="#e6e6e6" stroke="#e6e6e6"/>
<polygon points="466.5,287.5 484.0,296.3 484.0,310.0 466.5,302.5" fill="#d2d2d2" stroke="#d2d2d2"/>
<line x1="438.0" y1="299.0" x2="438.0" y2="313.0" stroke="#8c8c8c" stroke-width="0.8"/>
<line x1="484.0" y1="296.0" x2="484.0" y2="310.0" stroke="#8c8c8c" stroke-width="0.8"/>
<polygon points="437.6,298.3 466.4,284.3 472.0,287.0 443.2,301.0" fill="#d9c6a9" stroke="#d9c6a9"/>
<polygon points="466.4,284.3 472.0,281.5 490.0,290.5 484.4,293.3" fill="#d9c6a9" stroke="#d9c6a9"/>
<polygon points="437.6,298.3 443.2,301.0 443.2,302.0 437.6,299.3" fill="#a89577" stroke="#a89577"/>
<polygon points="443.2,301.0 466.4,289.5 466.4,290.5 443.2,302.0" fill="#b7a486" stroke="#b7a486"/>
<polygon points="448.8,295.0 455.6,291.6 460.9,294.3 454.2,297.7" fill="#f2f2f2" stroke="#f2f2f2"/>
<polygon points="454.2,297.7 460.9,294.3 460.9,299.1 454.2,302.4" fill="#c9c9c9" stroke="#c9c9c9"/>
<polygon points="448.8,295.0 454.2,297.7 454.2,302.4 448.8,299.7" fill="#e3e3e3" stroke="#e3e3e3"/>
<polygon points="449.9,294.6 455.0,292.0 459.1,294.1 453.9,296.6" fill="#c8282a" stroke="#c8282a"/>
<polygon points="449.9,294.6 453.9,296.6 453.9,298.0 449.9,295.9" fill="#8e1b1d" stroke="#8e1b1d"/>
<polygon points="469.5,296.2 478.0,300.5 478.0,294.0 469.5,289.8" fill="#f39317" stroke="#f39317"/>
<polygon points="478.0,300.5 486.5,296.2 486.5,289.8 478.0,294.0" fill="#d97e07" stroke="#d97e07"/>
<polygon points="478.0,294.0 486.5,289.8 478.0,285.5 469.5,289.8" fill="#f8a12a" stroke="#f8a12a"/>
<polygon points="441.6,301.9 445.9,301.9 443.6,321.7 441.2,321.7" fill="#1a5a8e" stroke="#1a5a8e"/>
<polygon points="445.1,301.9 449.8,301.9 449.5,320.5 447.0,320.5" fill="#1a5a8e" stroke="#1a5a8e"/>
<polygon points="441.0,321.3 444.4,321.3 444.4,322.5 441.0,322.5" fill="#333" stroke="#333"/>
<polygon points="446.8,320.1 450.4,320.1 450.4,321.3 446.8,321.3" fill="#333" stroke="#333"/>
<path d="M441.1,290.8 q4.5,-1.2 9.0,0 l0.3,12.7 l-9.6,0 z" fill="#f7941d"/>
<rect x="441.1" y="298.4" width="9.0" height="0.9" fill="#e8e8e8"/>
<line x1="441.4" y1="291.4" x2="440.6" y2="302.9" stroke="#f7941d" stroke-width="1.8"/>
<line x1="449.8" y1="291.4" x2="450.6" y2="302.9" stroke="#f7941d" stroke-width="1.8"/>
<circle cx="445.6" cy="287.4" r="2.3" fill="#f0cfae"/>
<path d="M443.0,287.2 a2.6,2.6 0 0,1 5.2,0 l0.6,0 l0,0.7 l-6.4,0 z" fill="#f4f4f4"/>
<polygon points="423.1,313.8 426.7,313.8 423.9,329.4 421.5,329.4" fill="#1a5a8e" stroke="#1a5a8e"/>
<polygon points="425.9,313.8 429.9,313.8 431.0,328.2 428.5,328.2" fill="#1a5a8e" stroke="#1a5a8e"/>
<polygon points="421.3,329.0 424.8,329.0 424.8,330.2 421.3,330.2" fill="#333" stroke="#333"/>
<polygon points="428.3,327.8 431.9,327.8 431.9,329.0 428.3,329.0" fill="#333" stroke="#333"/>
<path d="M422.6,305.2 q3.8,-1.2 7.6,0 l0.3,10.2 l-8.2,0 z" fill="#f2d11b"/>
<rect x="422.6" y="310.3" width="7.6" height="0.9" fill="#e8e8e8"/>
<line x1="423.4" y1="306.1" x2="421.5" y2="313.5" stroke="#4caf7a" stroke-width="1.8"/>
<line x1="429.4" y1="306.1" x2="431.5" y2="314.0" stroke="#4caf7a" stroke-width="1.8"/>
<circle cx="426.4" cy="301.8" r="2.3" fill="#f0cfae"/>
<path d="M424.0,302.0 a2.4,2.4 0 1,1 4.8,0 l-0.4,-0.3 l-3.8,0.3 z" fill="#6a2e12"/>
<polygon points="464.4,316.3 467.9,316.3 466.5,326.2 464.1,326.2" fill="#13608f" stroke="#13608f"/>
<polygon points="467.1,316.3 471.0,316.3 470.2,325.0 467.7,325.0" fill="#13608f" stroke="#13608f"/>
<polygon points="463.9,325.8 467.3,325.8 467.3,327.0 463.9,327.0" fill="#333" stroke="#333"/>
<polygon points="467.5,324.6 471.1,324.6 471.1,325.8 467.5,325.8" fill="#333" stroke="#333"/>
<path d="M463.9,311.0 q3.7,-1.2 7.4,0 l0.3,6.9 l-8.0,0 z" fill="#13608f"/>
<rect x="463.9" y="312.8" width="7.4" height="0.9" fill="#e8e8e8"/>
<line x1="470.5" y1="311.9" x2="471.0" y2="315.0" stroke="#13608f" stroke-width="1.8"/>
<circle cx="467.6" cy="307.6" r="2.3" fill="#f0cfae"/>
<path d="M465.0,307.4 a2.6,2.6 0 0,1 5.2,0 l0.6,0 l0,0.7 l-6.4,0 z" fill="#f7a01b"/>
<polygon points="467.5,313.5 471.0,312.0 471.0,315.0 467.5,316.5" fill="#222" stroke="#222"/>
<polygon points="447.0,330.0 467.6,340.0 467.6,350.0 447.0,340.0" fill="#e2e2e2" stroke="#e2e2e2"/>
<polygon points="467.6,340.0 495.0,326.5 495.0,336.5 467.6,350.0" fill="#cfcfcf" stroke="#cfcfcf"/>
<line x1="447.0" y1="328.4" x2="447.0" y2="341.8" stroke="#6f6f6f" stroke-width="0.8"/>
<line x1="467.6" y1="338.5" x2="467.6" y2="351.8" stroke="#6f6f6f" stroke-width="0.8"/>
<line x1="495.1" y1="325.1" x2="495.1" y2="337.8" stroke="#6f6f6f" stroke-width="0.8"/>
<line x1="477.3" y1="333.7" x2="477.3" y2="346.6" stroke="#6f6f6f" stroke-width="0.8"/>
<line x1="447.0" y1="340.5" x2="467.6" y2="350.5" stroke="#6f6f6f" stroke-width="0.6"/>
<line x1="467.6" y1="350.5" x2="495.1" y2="336.8" stroke="#6f6f6f" stroke-width="0.6"/>
<polygon points="446.5,328.4 467.6,338.5 475.6,334.5 454.5,324.4" fill="#d9c6a9" stroke="#d9c6a9"/>
<polygon points="467.6,338.5 495.1,325.1 487.1,321.1 459.6,334.5" fill="#d9c6a9" stroke="#d9c6a9"/>
<polygon points="446.5,328.4 467.6,338.5 467.6,339.6 446.5,329.5" fill="#a89577" stroke="#a89577"/>
<polygon points="467.6,338.5 495.1,325.1 495.1,326.2 467.6,339.6" fill="#8e7c60" stroke="#8e7c60"/>
<polygon points="449.5,325.2 456.0,321.9 461.2,324.6 454.7,327.8" fill="#f2f2f2" stroke="#f2f2f2"/>
<polygon points="454.7,327.8 461.2,324.6 461.2,329.1 454.7,332.3" fill="#c9c9c9" stroke="#c9c9c9"/>
<polygon points="449.5,325.2 454.7,327.8 454.7,332.3 449.5,329.8" fill="#e3e3e3" stroke="#e3e3e3"/>
<polygon points="450.5,324.8 455.5,322.3 459.4,324.3 454.4,326.8" fill="#c8282a" stroke="#c8282a"/>
<polygon points="450.5,324.8 454.4,326.8 454.4,328.1 450.5,326.1" fill="#8e1b1d" stroke="#8e1b1d"/>
<polygon points="461.8,332.0 468.3,328.8 473.5,331.4 467.0,334.6" fill="#f2f2f2" stroke="#f2f2f2"/>
<polygon points="467.0,334.6 473.5,331.4 473.5,335.9 467.0,339.1" fill="#c9c9c9" stroke="#c9c9c9"/>
<polygon points="461.8,332.0 467.0,334.6 467.0,339.1 461.8,336.6" fill="#e3e3e3" stroke="#e3e3e3"/>
<polygon points="462.8,331.6 467.8,329.1 471.7,331.1 466.7,333.6" fill="#c8282a" stroke="#c8282a"/>
<polygon points="462.8,331.6 466.7,333.6 466.7,334.9 462.8,332.9" fill="#8e1b1d" stroke="#8e1b1d"/>
<polygon points="475.0,325.2 481.5,321.9 486.7,324.6 480.2,327.8" fill="#f2f2f2" stroke="#f2f2f2"/>
<polygon points="480.2,327.8 486.7,324.6 486.7,329.1 480.2,332.3" fill="#c9c9c9" stroke="#c9c9c9"/>
<polygon points="475.0,325.2 480.2,327.8 480.2,332.3 475.0,329.8" fill="#e3e3e3" stroke="#e3e3e3"/>
<polygon points="476.0,324.8 481.0,322.3 484.9,324.3 479.9,326.8" fill="#c8282a" stroke="#c8282a"/>
<polygon points="476.0,324.8 479.9,326.8 479.9,328.1 476.0,326.1" fill="#8e1b1d" stroke="#8e1b1d"/>
<polygon points="228.4,404.8 297.3,439.4 297.3,443.7 228.4,409.1" fill="#cdcdcd"/>
<polygon points="297.3,439.4 366.2,404.8 366.2,409.1 297.3,443.7" fill="#b3b3b3"/>
<polygon points="228.4,404.8 297.3,370.2 366.2,404.8 297.3,439.4" fill="#e2e2e2"/>
<polygon points="273.2,393.2 275.2,392.2 275.2,401.7 273.2,402.7" fill="#e0ac12" stroke="#e0ac12"/>
<polygon points="275.2,393.4 281.2,392.8 283.7,395.2 286.2,400.2 284.7,401.2 282.2,398.7 281.9,403.2 275.7,403.7" fill="#f2f2f2" stroke="#f2f2f2"/>
<circle cx="279.7" cy="390.2" r="2.2" fill="#f0cfae"/>
<path d="M277.4,390.4 a2.3,2.3 0 1,1 4.5,0.2 l-0.8,-0.6 l-2.2,-0.3 l-1.3,1.4 z" fill="#8a3418"/>
<polygon points="285.9,387.2 287.9,386.2 287.9,395.7 285.9,396.7" fill="#e0ac12" stroke="#e0ac12"/>
<polygon points="287.9,387.4 293.9,386.8 296.4,389.2 298.9,394.2 297.4,395.2 294.9,392.7 294.6,397.2 288.4,397.7" fill="#1d5f8e" stroke="#1d5f8e"/>
<circle cx="292.4" cy="384.2" r="2.2" fill="#f0cfae"/>
<path d="M290.1,384.4 a2.3,2.3 0 1,1 4.5,0.2 l-0.8,-0.6 l-2.2,-0.3 l-1.3,1.4 z" fill="#8a3418"/>
<polygon points="292.5,388.0 293.3,388.0 293.2,392.0 292.6,392.0" fill="#e6b800" stroke="#e6b800"/>
<polygon points="297.3,380.6 299.3,379.6 299.3,389.1 297.3,390.1" fill="#e0ac12" stroke="#e0ac12"/>
<polygon points="299.3,380.8 305.3,380.2 307.8,382.6 310.3,387.6 308.8,388.6 306.3,386.1 306.0,390.6 299.8,391.1" fill="#1d5f8e" stroke="#1d5f8e"/>
<circle cx="303.8" cy="377.6" r="2.2" fill="#f0cfae"/>
<path d="M301.5,377.8 a2.3,2.3 0 1,1 4.5,0.2 l-0.8,-0.6 l-2.2,-0.3 l-1.3,1.4 z" fill="#8a3418"/>
<polygon points="317.0,393.2 319.0,392.2 319.0,401.7 317.0,402.7" fill="#e0ac12" stroke="#e0ac12"/>
<polygon points="319.0,393.4 325.0,392.8 327.5,395.2 330.0,400.2 328.5,401.2 326.0,398.7 325.7,403.2 319.5,403.7" fill="#1d5f8e" stroke="#1d5f8e"/>
<circle cx="323.5" cy="390.2" r="2.2" fill="#f0cfae"/>
<path d="M321.2,390.4 a2.3,2.3 0 1,1 4.5,0.2 l-0.8,-0.6 l-2.2,-0.3 l-1.3,1.4 z" fill="#8a3418"/>
<circle cx="323.3" cy="389.6" r="2.6" fill="#8a3418"/>
<polygon points="329.5,395.0 333.5,393.0 334.0,399.0 330.0,401.0" fill="#e6b800" stroke="#e6b800"/>
<polygon points="271.0,410.0 300.0,397.0 330.0,404.0 300.0,420.0" fill="#cfcfcf" stroke="#cfcfcf"/>
<polygon points="279.0,408.0 290.5,413.0 290.5,424.0 279.0,419.0" fill="#6e4210" stroke="#6e4210"/>
<polygon points="290.5,413.0 296.0,410.5 296.0,421.5 290.5,424.0" fill="#54320a" stroke="#54320a"/>
<path d="M272.5,405 Q285,396 300,392 Q313,387 326,390 Q331,392 327,396 Q318,402 306,407 Q293,412 284,413 Q274,411 272.5,405 Z" fill="#875619"/>
<path d="M272.5,405 Q274,411 284,413 Q293,412 306,407 L306,408.6 Q293,413.6 284,414.6 Q274,412.6 272.5,406.6 Z" fill="#5e3a0c"/>
<polygon points="282.0,400.5 289.0,397.0 290.0,401.5 283.0,405.0" fill="#222" stroke="#222"/>
<polygon points="298.0,396.5 303.8,394.0 303.8,399.5 298.0,402.0" fill="#2f5fc0" stroke="#2f5fc0"/>
<polygon points="308.7,388.5 315.5,385.5 316.0,390.0 309.2,393.0" fill="#222" stroke="#222"/>
<polygon points="304.0,398.0 310.0,394.5 314.0,397.0 314.0,407.0 308.0,410.0 304.0,408.0" fill="#1d5f8e" stroke="#1d5f8e"/>
<circle cx="309.5" cy="394.5" r="2.3" fill="#5a2a14"/>
<polygon points="314.0,399.0 320.0,396.0 322.0,400.0 316.0,404.0" fill="#1d5f8e" stroke="#1d5f8e"/>
<polygon points="271.0,414.8 276.5,414.3 278.0,416.3 272.5,417.3" fill="#e8bd10" stroke="#e8bd10"/>
<polygon points="271.5,408.6 276.0,407.3 276.5,413.8 272.0,415.3" fill="#1e1e1e" stroke="#1e1e1e"/>
<line x1="274.5" y1="417.0" x2="274.5" y2="419.8" stroke="#666" stroke-width="0.8"/>
<line x1="271.5" y1="420.1" x2="277.5" y2="419.8" stroke="#777" stroke-width="0.7"/>
<polygon points="298.7,415.5 304.2,415.0 305.7,417.0 300.2,418.0" fill="#e8bd10" stroke="#e8bd10"/>
<polygon points="299.2,409.3 303.7,408.0 304.2,414.5 299.7,416.0" fill="#1e1e1e" stroke="#1e1e1e"/>
<line x1="302.2" y1="417.7" x2="302.2" y2="420.5" stroke="#666" stroke-width="0.8"/>
<line x1="299.2" y1="420.8" x2="305.2" y2="420.5" stroke="#777" stroke-width="0.7"/>
<polygon points="310.3,410.0 315.8,409.5 317.3,411.5 311.8,412.5" fill="#e8bd10" stroke="#e8bd10"/>
<polygon points="310.8,403.8 315.3,402.5 315.8,409.0 311.3,410.5" fill="#1e1e1e" stroke="#1e1e1e"/>
<line x1="313.8" y1="412.2" x2="313.8" y2="415.0" stroke="#666" stroke-width="0.8"/>
<line x1="310.8" y1="415.3" x2="316.8" y2="415.0" stroke="#777" stroke-width="0.7"/>
<polygon points="323.7,403.8 329.2,403.3 330.7,405.3 325.2,406.3" fill="#e8bd10" stroke="#e8bd10"/>
<polygon points="324.2,397.6 328.7,396.3 329.2,402.8 324.7,404.3" fill="#1e1e1e" stroke="#1e1e1e"/>
<line x1="327.2" y1="406.0" x2="327.2" y2="408.8" stroke="#666" stroke-width="0.8"/>
<line x1="324.2" y1="409.1" x2="330.2" y2="408.8" stroke="#777" stroke-width="0.7"/>
<polygon points="571.5,194.7 574.5,194.7 572.5,206.7 570.1,206.7" fill="#1a5a8e" stroke="#1a5a8e"/>
<polygon points="573.7,194.7 577.2,194.7 577.7,205.5 575.2,205.5" fill="#1a5a8e" stroke="#1a5a8e"/>
<polygon points="569.9,206.3 573.3,206.3 573.3,207.5 569.9,207.5" fill="#333" stroke="#333"/>
<polygon points="575.0,205.1 578.6,205.1 578.6,206.3 575.0,206.3" fill="#333" stroke="#333"/>
<path d="M571.0,188.2 q3.2,-1.2 6.5,0 l0.3,8.1 l-7.1,0 z" fill="#8dc63f"/>
<line x1="576.7" y1="189.1" x2="580.0" y2="190.0" stroke="#4aa3df" stroke-width="1.8"/>
<circle cx="574.2" cy="184.8" r="2.3" fill="#f0cfae"/>
<path d="M571.8,185.0 a2.4,2.4 0 1,1 4.8,0 l-0.4,-0.3 l-3.8,0.3 z" fill="#7a3315"/>
<polygon points="582.0,189.0 611.0,203.5 611.0,208.0 582.0,194.0" fill="#2b2b2b" stroke="#2b2b2b"/>
<polygon points="581.3,178.3 610.5,193.5 610.5,203.8 581.3,190.5" fill="#0f3c61" stroke="#0f3c61"/>
<polygon points="582.5,180.5 603.0,191.0 603.0,200.5 582.5,190.5" fill="#e5b61a" stroke="#e5b61a"/>
<line x1="586.0" y1="184.0" x2="586.0" y2="193.0" stroke="#b88d0a" stroke-width="0.6"/>
<line x1="590.0" y1="186.0" x2="590.0" y2="195.0" stroke="#b88d0a" stroke-width="0.6"/>
<line x1="594.0" y1="188.0" x2="594.0" y2="197.0" stroke="#b88d0a" stroke-width="0.6"/>
<line x1="598.0" y1="190.0" x2="598.0" y2="199.0" stroke="#b88d0a" stroke-width="0.6"/>
<line x1="582.5" y1="185.5" x2="603.0" y2="196.0" stroke="#b88d0a" stroke-width="0.6"/>
<polygon points="576.0,188.0 581.0,190.5 581.0,186.0 576.0,183.5" fill="#eab818" stroke="#eab818"/>
<polygon points="581.0,190.5 585.0,188.5 585.0,184.0 581.0,186.0" fill="#d7a40c" stroke="#d7a40c"/>
<polygon points="581.0,186.0 585.0,184.0 580.0,181.5 576.0,183.5" fill="#f5cd2a" stroke="#f5cd2a"/>
<polygon points="581.3,178.3 591.7,173.4 620.9,188.6 610.5,193.5" fill="#1b4f78" stroke="#1b4f78"/>
<polygon points="610.5,193.5 620.9,188.6 620.9,198.5 610.5,203.8" fill="#12466e" stroke="#12466e"/>
<polygon points="611.0,195.0 618.5,191.5 627.0,196.0 627.0,205.5 619.0,209.5 611.0,205.5" fill="#e9e9e9" stroke="#e9e9e9"/>
<polygon points="619.0,200.0 627.0,196.0 627.0,205.5 619.0,209.5" fill="#c9c9c9" stroke="#c9c9c9"/>
<polygon points="611.5,196.0 618.0,193.0 618.0,199.0 611.5,202.0" fill="#2f7fc1" stroke="#2f7fc1"/>
<polygon points="619.5,200.5 626.5,197.0 626.5,200.5 619.5,204.0" fill="#1d5c8c" stroke="#1d5c8c"/>
<polygon points="620.5,205.0 625.5,202.5 625.5,205.5 620.5,208.0" fill="#8a8a8a" stroke="#8a8a8a"/>
<circle cx="585.0" cy="195.5" r="1.8" fill="#222"/>
<circle cx="614.5" cy="208.5" r="1.8" fill="#222"/>
<circle cx="622.0" cy="207.5" r="1.8" fill="#222"/>
<g style="opacity:0.995">
<text transform="matrix(0.950,-0.4750,-0.15,1,309.6,182.6)" font-family="Liberation Sans, sans-serif" font-size="11.9" fill="#36373a" stroke="#36373a" stroke-width="0.6">Engineering Research</text>
<text transform="matrix(0.950,-0.4750,-0.15,1,309.2,197.6)" font-family="Liberation Sans, sans-serif" font-size="11.9" fill="#36373a" stroke="#36373a" stroke-width="0.6">and Development</text>
<text transform="matrix(0.950,-0.4750,-0.15,1,113.6,256.5)" font-family="Liberation Sans, sans-serif" font-size="11.9" fill="#36373a" stroke="#36373a" stroke-width="0.6">EHS Department</text>
<text transform="matrix(0.965,-0.4825,-0.15,1,512.5,256.0)" font-family="Liberation Sans, sans-serif" font-size="11.9" fill="#36373a" stroke="#36373a" stroke-width="0.6">Warehouse</text>
<text transform="matrix(0.980,-0.4900,-0.15,1,285.6,343.1)" font-family="Liberation Sans, sans-serif" font-size="11.9" fill="#36373a" stroke="#36373a" stroke-width="0.6">Manufacturing Department</text>
<text transform="matrix(0.965,-0.4825,-0.15,1,137.7,367.4)" font-family="Liberation Sans, sans-serif" font-size="11.9" fill="#36373a" stroke="#36373a" stroke-width="0.6">HR &amp;Marketing</text>
<text transform="matrix(0.985,-0.4925,-0.15,1,469.8,373.7)" font-family="Liberation Sans, sans-serif" font-size="11.9" fill="#36373a" stroke="#36373a" stroke-width="0.6">Quality Department</text>
<text transform="matrix(0.970,-0.4850,-0.15,1,291.5,465.9)" font-family="Liberation Sans, sans-serif" font-size="11.9" fill="#36373a" stroke="#36373a" stroke-width="0.6">Maintenance Department</text>
</g>
<polygon points="248.3,251 252.3,250.8 251.2,256.2" fill="#0e5983"/>
<polygon points="299.8,274.5 303.8,273.2 304.0,278.8" fill="#0e5983"/>
<g><circle cx="317.0" cy="71.0" r="7.3" fill="#fff" stroke="#0e5983" stroke-width="3.5"/><text x="317.0" y="74.2" text-anchor="middle" font-family="Liberation Sans, sans-serif" font-weight="bold" font-size="8.9" fill="#262626">1</text></g>
<g><circle cx="341.2" cy="83.3" r="7.3" fill="#fff" stroke="#0e5983" stroke-width="3.5"/><text x="341.2" y="86.5" text-anchor="middle" font-family="Liberation Sans, sans-serif" font-weight="bold" font-size="8.9" fill="#262626">2</text></g>
<g><circle cx="365.9" cy="95.5" r="7.3" fill="#fff" stroke="#0e5983" stroke-width="3.5"/><text x="365.9" y="98.7" text-anchor="middle" font-family="Liberation Sans, sans-serif" font-weight="bold" font-size="8.9" fill="#262626">3</text></g>
<g><circle cx="304.2" cy="126.1" r="7.3" fill="#fff" stroke="#0e5983" stroke-width="3.5"/><text x="304.2" y="129.3" text-anchor="middle" font-family="Liberation Sans, sans-serif" font-weight="bold" font-size="8.9" fill="#262626">4</text></g>
<g><circle cx="261.4" cy="101.8" r="7.3" fill="#fff" stroke="#0e5983" stroke-width="3.5"/><text x="261.4" y="105.0" text-anchor="middle" font-family="Liberation Sans, sans-serif" font-weight="bold" font-size="8.9" fill="#262626">5</text></g>
<g><circle cx="64.8" cy="175.5" r="7.3" fill="#fff" stroke="#0e5983" stroke-width="3.5"/><text x="64.8" y="178.7" text-anchor="middle" font-family="Liberation Sans, sans-serif" font-weight="bold" font-size="8.9" fill="#262626">6</text></g>
<g><circle cx="101.0" cy="156.5" r="7.3" fill="#fff" stroke="#0e5983" stroke-width="3.5"/><text x="101.0" y="159.7" text-anchor="middle" font-family="Liberation Sans, sans-serif" font-weight="bold" font-size="8.9" fill="#262626">7</text></g>
<g><circle cx="138.2" cy="175.5" r="7.3" fill="#fff" stroke="#0e5983" stroke-width="3.5"/><text x="138.2" y="178.7" text-anchor="middle" font-family="Liberation Sans, sans-serif" font-weight="bold" font-size="8.9" fill="#262626">8</text></g>
<g><circle cx="507.8" cy="164.1" r="7.3" fill="#fff" stroke="#0e5983" stroke-width="3.5"/><text x="507.8" y="167.0" text-anchor="middle" font-family="Liberation Sans, sans-serif" font-weight="bold" font-size="8.0" fill="#262626">9</text></g>
<g><circle cx="569.3" cy="170.1" r="7.3" fill="#fff" stroke="#fc980c" stroke-width="3.5"/><text x="570.0" y="172.9" text-anchor="middle" font-family="Liberation Sans, sans-serif" font-weight="bold" font-size="7.9" fill="#262626">10</text></g>
<g><circle cx="526.3" cy="219.3" r="7.3" fill="#fff" stroke="#fc980c" stroke-width="3.5"/><text x="527.0" y="222.2" text-anchor="middle" font-family="Liberation Sans, sans-serif" font-weight="bold" font-size="8.0" fill="#262626">11</text></g>
<g><circle cx="458.6" cy="182.2" r="7.3" fill="#fff" stroke="#0e5983" stroke-width="3.5"/><text x="459.3" y="185.4" text-anchor="middle" font-family="Liberation Sans, sans-serif" font-weight="bold" font-size="9.0" fill="#262626">12</text></g>
<g><circle cx="249.5" cy="243.3" r="7.3" fill="#fff" stroke="#0e5983" stroke-width="3.5"/><text x="250.2" y="246.2" text-anchor="middle" font-family="Liberation Sans, sans-serif" font-weight="bold" font-size="8.0" fill="#262626">13</text></g>
<g><circle cx="354.0" cy="243.3" r="7.3" fill="#fff" stroke="#fc980c" stroke-width="3.5"/><text x="354.7" y="246.2" text-anchor="middle" font-family="Liberation Sans, sans-serif" font-weight="bold" font-size="8.0" fill="#262626">14</text></g>
<g><circle cx="298.9" cy="267.9" r="7.3" fill="#fff" stroke="#0e5983" stroke-width="3.5"/><text x="299.6" y="270.8" text-anchor="middle" font-family="Liberation Sans, sans-serif" font-weight="bold" font-size="8.0" fill="#262626">15</text></g>
<g><circle cx="298.9" cy="218.7" r="7.3" fill="#fff" stroke="#fc980c" stroke-width="3.5"/><text x="299.6" y="221.4" text-anchor="middle" font-family="Liberation Sans, sans-serif" font-weight="bold" font-size="7.6" fill="#262626">16</text></g>
<g><circle cx="138.4" cy="274.4" r="7.3" fill="#fff" stroke="#0e5983" stroke-width="3.5"/><text x="139.1" y="277.0" text-anchor="middle" font-family="Liberation Sans, sans-serif" font-weight="bold" font-size="7.4" fill="#262626">17</text></g>
<g><circle cx="163.3" cy="292.8" r="7.3" fill="#fff" stroke="#0e5983" stroke-width="3.5"/><text x="164.0" y="295.7" text-anchor="middle" font-family="Liberation Sans, sans-serif" font-weight="bold" font-size="8.2" fill="#262626">18</text></g>
<g><circle cx="89.2" cy="292.8" r="7.3" fill="#fff" stroke="#0e5983" stroke-width="3.5"/><text x="89.9" y="295.7" text-anchor="middle" font-family="Liberation Sans, sans-serif" font-weight="bold" font-size="8.2" fill="#262626">19</text></g>
<g><circle cx="452.3" cy="274.6" r="7.3" fill="#fff" stroke="#0e5983" stroke-width="3.5"/><text x="453.0" y="277.3" text-anchor="middle" font-family="Liberation Sans, sans-serif" font-weight="bold" font-size="7.6" fill="#262626">20</text></g>
<g><circle cx="483.2" cy="305.5" r="7.3" fill="#fff" stroke="#0e5983" stroke-width="3.5"/><text x="483.9" y="308.4" text-anchor="middle" font-family="Liberation Sans, sans-serif" font-weight="bold" font-size="8.2" fill="#262626">21</text></g>
<g><circle cx="427.8" cy="287.0" r="7.3" fill="#fff" stroke="#fc980c" stroke-width="3.5"/><text x="428.5" y="289.9" text-anchor="middle" font-family="Liberation Sans, sans-serif" font-weight="bold" font-size="8.0" fill="#262626">22</text></g>
<g><circle cx="335.2" cy="377.9" r="7.3" fill="#fff" stroke="#0e5983" stroke-width="3.5"/><text x="335.9" y="380.8" text-anchor="middle" font-family="Liberation Sans, sans-serif" font-weight="bold" font-size="8.0" fill="#262626">22</text></g>
<g><circle cx="316.6" cy="421.4" r="7.3" fill="#fff" stroke="#0e5983" stroke-width="3.5"/><text x="317.3" y="424.3" text-anchor="middle" font-family="Liberation Sans, sans-serif" font-weight="bold" font-size="8.0" fill="#262626">23</text></g>
<g><circle cx="304.1" cy="365.4" r="7.3" fill="#fff" stroke="#d2251f" stroke-width="3.5"/><text x="304.8" y="368.0" text-anchor="middle" font-family="Liberation Sans, sans-serif" font-weight="bold" font-size="7.4" fill="#262626">24</text></g>
<g><circle cx="285.4" cy="371.4" r="7.3" fill="#fff" stroke="#d2251f" stroke-width="3.5"/><text x="286.1" y="374.1" text-anchor="middle" font-family="Liberation Sans, sans-serif" font-weight="bold" font-size="7.6" fill="#262626">25</text></g>
<g><circle cx="267.2" cy="384.1" r="7.3" fill="#fff" stroke="#d2251f" stroke-width="3.5"/><text x="267.9" y="386.5" text-anchor="middle" font-family="Liberation Sans, sans-serif" font-weight="bold" font-size="6.8" fill="#262626">26</text></g>
<circle cx="536.8" cy="417.2" r="5.9" fill="#fff" stroke="#0e5983" stroke-width="3.0"/>
<text x="548" y="419.2" font-family="Liberation Sans, sans-serif" font-size="10.4" fill="#3c3c3c" stroke="#3c3c3c" stroke-width="0.15" textLength="51.0" lengthAdjust="spacingAndGlyphs">Employees</text>
<circle cx="536.8" cy="438.8" r="5.9" fill="#fff" stroke="#fc980c" stroke-width="3.0"/>
<text x="548" y="443.3" font-family="Liberation Sans, sans-serif" font-size="10.4" fill="#3c3c3c" stroke="#3c3c3c" stroke-width="0.15" textLength="54.4" lengthAdjust="spacingAndGlyphs">Contractors</text>
<circle cx="536.8" cy="460.6" r="5.9" fill="#fff" stroke="#d2251f" stroke-width="3.0"/>
<text x="548" y="461.8" font-family="Liberation Sans, sans-serif" font-size="10.4" fill="#3c3c3c" stroke="#3c3c3c" stroke-width="0.15" textLength="34.6" lengthAdjust="spacingAndGlyphs">Visitors</text>
</svg>
</body></html>
